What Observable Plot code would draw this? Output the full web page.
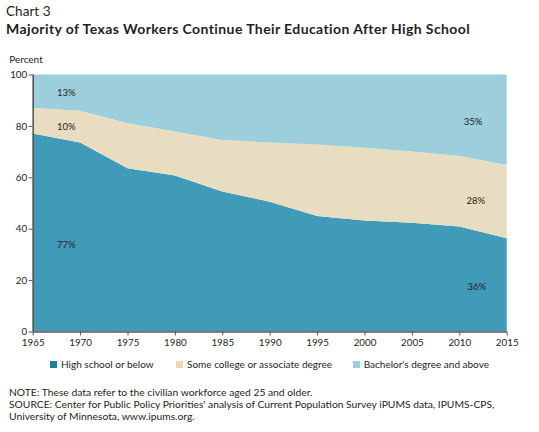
<!DOCTYPE html>
<html>
<head>
<meta charset="utf-8">
<script src="https://cdn.jsdelivr.net/npm/d3@7"></script>
<script src="https://cdn.jsdelivr.net/npm/@observablehq/plot@0.6"></script>
<style>
  html, body { margin: 0; padding: 0; background: #fff; }
  body { width: 539px; height: 432px; position: relative; overflow: hidden; font-family: Lato, "Open Sans", sans-serif; color: #231f20; }
  .t1 { position: absolute; left: 6px; top: 4.3px; font-size: 13.6px; line-height: 15px; font-weight: 400; }
  .t2 { position: absolute; left: 6px; top: 21.1px; font-size: 14px; line-height: 15px; font-weight: 700; letter-spacing: 0.4px; white-space: nowrap; }
  #chart { position: absolute; left: 0; top: 0; }
  .legend { position: absolute; top: 357px; left: 0; width: 539px; height: 14px; font-size: 10px; }
  .item { position: absolute; top: 0; display: flex; align-items: center; height: 14px; white-space: nowrap; }
  .sw { width: 7px; height: 7px; margin-right: 4px; }
  .note { position: absolute; left: 9px; top: 386px; font-size: 10.3px; line-height: 12px; white-space: nowrap; }
</style>
</head>
<body>
<div class="t1">Chart 3</div>
<div class="t2">Majority of Texas Workers Continue Their Education After High School</div>
<div id="chart"></div>
<div class="legend" id="legend"></div>
<div class="note">NOTE: These data refer to the civilian workforce aged 25 and older.<br>SOURCE: Center for Public Policy Priorities' analysis of Current Population Survey iPUMS data, IPUMS-CPS,<br>University of Minnesota, www.ipums.org.</div>
<script>
const years = [1965, 1970, 1975, 1980, 1985, 1990, 1995, 2000, 2005, 2010, 2015];
const highSchool = [77, 73.5, 63.5, 60.7, 54.5, 50.5, 44.9, 43.2, 42.3, 40.9, 36.3];
const someCollege = [10, 12.4, 17.5, 17.1, 20, 23, 27.9, 28.3, 27.7, 27.4, 28.5];
const bachelors = [13, 14.1, 19, 22.2, 25.5, 26.5, 27.2, 28.5, 30, 31.7, 35.2];
const seriesNames = ["High school or below", "Some college or associate degree", "Bachelor's degree and above"];
const seriesColors = ["#3f9bb8", "#e8ddc0", "#9dcedc"];
const legendColors = ["#1f7f9e", "#e6dab9", "#9fcedd"];
const xTicks = [1965, 1970, 1975, 1980, 1985, 1990, 1995, 2000, 2005, 2010, 2015];
const yTicks = [0, 20, 40, 60, 80, 100];
const labelText = ["13%", "10%", "77%", "35%", "28%", "36%"];
const labelYear = [1968.5, 1968.5, 1968.5, 2011.4, 2011.7, 2011.8];
const labelValue = [92.9, 79.7, 33.9, 81.6, 50.9, 17.4];

const seriesValues = [highSchool, someCollege, bachelors];
const table = [];
seriesNames.forEach((s, i) => years.forEach((y, j) => table.push({series: s, year: y, value: seriesValues[i][j]})));
const labels = labelText.map((t, i) => ({text: t, year: labelYear[i], value: labelValue[i]}));

const W = 539, H = 352;
const chart = Plot.plot({
  width: W,
  height: H,
  marginTop: 74.5,
  marginBottom: H - 331.5,
  marginLeft: 32.7,
  marginRight: W - 506.7,
  style: {fontFamily: "Lato, 'Open Sans', sans-serif", fontSize: "9.8px", color: "#231f20", background: "transparent"},
  x: {domain: [1965, 2015], ticks: xTicks, tickFormat: d3.format("d"), label: null, tickSize: 4, tickPadding: 3},
  y: {domain: [0, 100], ticks: yTicks, label: null, tickSize: 4, tickPadding: 2},
  color: {domain: seriesNames, range: seriesColors},
  marks: [
    Plot.areaY(table, {x: "year", y: "value", fill: "series", order: seriesNames}),
    Plot.text(labels, {x: "year", y: "value", text: "text", fontSize: 9.5, fill: "#231f20"}),
    Plot.ruleX([1965], {stroke: "#58595b", strokeWidth: 1.6}),
    Plot.ruleY([0], {stroke: "#58595b", strokeWidth: 1.6}),
    Plot.text(["Percent"], {frameAnchor: "top-left", dx: -24, dy: -15.5, textAnchor: "start", lineAnchor: "middle", fontSize: 10, fill: "#231f20"})
  ]
});
chart.querySelectorAll("[aria-label='x-axis tick'], [aria-label='y-axis tick']").forEach(g => g.setAttribute("stroke", "#58595b"));
document.getElementById("chart").appendChild(chart);

const legendX = [50, 176, 352.7];
const legend = document.getElementById("legend");
seriesNames.forEach((s, i) => {
  const it = document.createElement("div");
  it.className = "item";
  it.style.left = legendX[i] + "px";
  const sw = document.createElement("div");
  sw.className = "sw";
  sw.style.background = legendColors[i];
  const tx = document.createElement("span");
  tx.textContent = s;
  it.appendChild(sw); it.appendChild(tx);
  legend.appendChild(it);
});
</script>
</body>
</html>
